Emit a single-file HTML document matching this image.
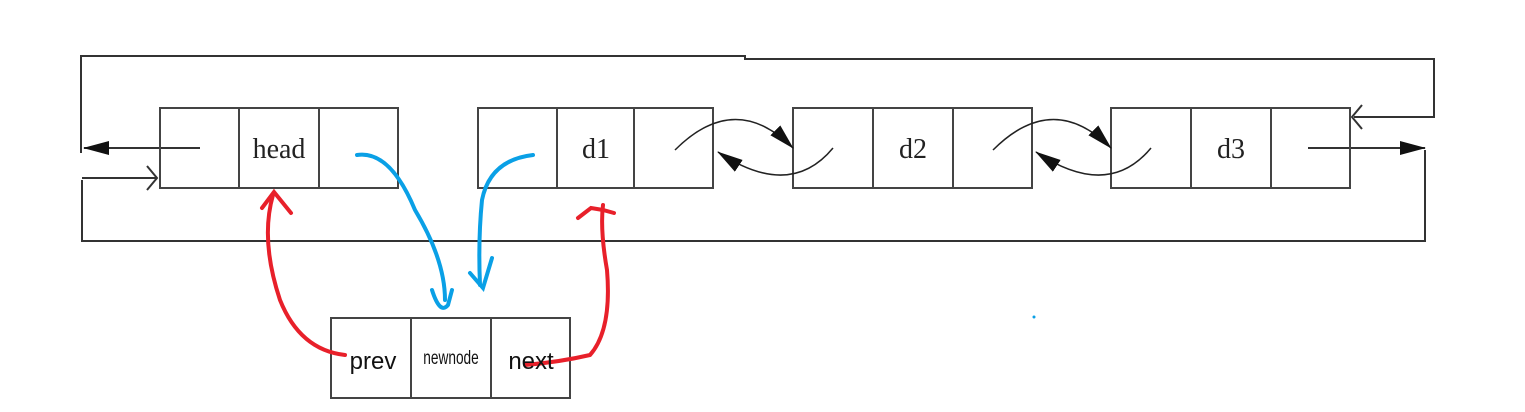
<!DOCTYPE html>
<html><head><style>body{margin:0;background:#fff}svg{display:block}</style></head><body>
<svg width="1525" height="412" viewBox="0 0 1525 412" xmlns="http://www.w3.org/2000/svg">
<defs>
<marker id="fb" markerWidth="26" markerHeight="16" refX="25" refY="8" orient="auto" markerUnits="userSpaceOnUse"><path d="M0,1 L26,8 L0,15 Z" fill="#111"/></marker>
</defs>
<g fill="none" stroke="#333" stroke-width="2">
<path d="M81,153 V56 H745 V59 H1434 V117 H1354"/>
<path d="M1362,105 L1352,117 L1362,129"/>
<path d="M82,180 V241 H1425 V150"/>
<path d="M200,148 H84" marker-end="url(#fb)"/>
<path d="M82,178 H157"/>
<path d="M147,166 L157,178 L147,190"/>
<path d="M1308,148 H1425" marker-end="url(#fb)"/>
<g stroke="#444">
<rect x="160" y="108" width="238" height="80"/><line x1="239" y1="108" x2="239" y2="188"/><line x1="319" y1="108" x2="319" y2="188"/>
<rect x="478" y="108" width="235" height="80"/><line x1="557" y1="108" x2="557" y2="188"/><line x1="634" y1="108" x2="634" y2="188"/>
<rect x="793" y="108" width="239" height="80"/><line x1="873" y1="108" x2="873" y2="188"/><line x1="953" y1="108" x2="953" y2="188"/>
<rect x="1111" y="108" width="239" height="80"/><line x1="1191" y1="108" x2="1191" y2="188"/><line x1="1271" y1="108" x2="1271" y2="188"/>
<rect x="331" y="318" width="239" height="80"/><line x1="411" y1="318" x2="411" y2="398"/><line x1="491" y1="318" x2="491" y2="398"/>
</g>
<g stroke="#222" stroke-width="1.5">
<path d="M675,150 Q735,90 793,148" marker-end="url(#fb)"/>
<path d="M833,148 Q790,200 718,152" marker-end="url(#fb)"/>
<path d="M993,150 Q1053,90 1111,148" marker-end="url(#fb)"/>
<path d="M1151,148 Q1108,200 1036,152" marker-end="url(#fb)"/>
</g>
</g>
<g fill="none" stroke="#0aa0e6" stroke-width="4" stroke-linecap="round">
<path d="M357,155 Q390,150 415,210 Q445,260 445,300"/>
<path d="M432,290 Q440,315 448,305 L452,290"/>
<path d="M533,155 Q490,160 482,200 Q478,240 480,285"/>
<path d="M470,273 L483,288 L492,258"/>
</g>
<g fill="none" stroke="#e8202a" stroke-width="4" stroke-linecap="round">
<path d="M345,355 Q300,350 280,300 Q260,240 273,195"/>
<path d="M262,208 L274,192 L291,213"/>
<path d="M525,365 Q560,362 590,355 Q612,330 607,270 Q600,230 603,205"/>
<path d="M578,218 L591,208 L603,210 L614,213"/>
</g>
<g font-family="'Liberation Serif',serif" font-size="28" fill="#222" text-anchor="middle">
<text x="279" y="158">head</text><text x="596" y="158">d1</text><text x="913" y="158">d2</text><text x="1231" y="158">d3</text>
</g>
<g font-family="'Liberation Sans',sans-serif" fill="#111" text-anchor="middle">
<text x="373" y="369" font-size="24">prev</text>
<text transform="translate(451,364) scale(0.72,1)" x="0" y="0" font-size="19">newnode</text>
<text x="531" y="369" font-size="24">next</text>
</g>
<circle cx="1034" cy="317" r="1.5" fill="#0aa0e6"/>
</svg>
</body></html>
